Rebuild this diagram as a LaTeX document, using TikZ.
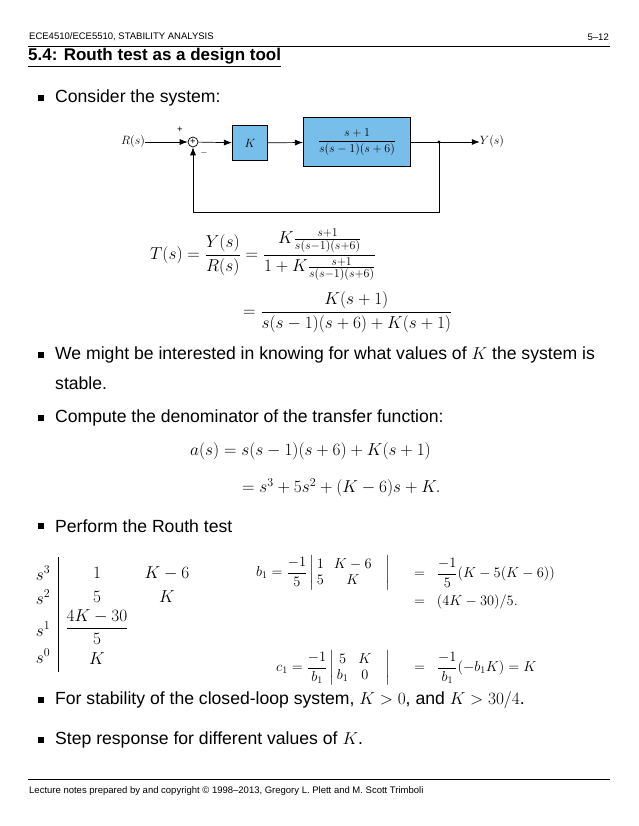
\documentclass[tikz,border=0pt]{standalone}
\usepackage{amsmath}
\usepackage{fontspec}
\setmainfont{Liberation Sans}
\usetikzlibrary{arrows.meta}
\definecolor{blk}{RGB}{120,190,235}
\tikzset{
 txt/.style={anchor=west,inner sep=0pt,font=\fontsize{17.6}{20}\selectfont},
 mth/.style={inner sep=0pt,font=\fontsize{16.5}{19}\selectfont},
 dmt/.style={inner sep=0pt,anchor=west,font=\fontsize{14}{16}\selectfont},
 small/.style={inner sep=0pt,font=\fontsize{9.5}{11}\selectfont},
 bul/.style={fill=black,minimum size=6.5pt,inner sep=0pt},
 blkbox/.style={draw,line width=1.2pt,fill=blk,inner sep=0pt},
 sig/.style={-{Latex[length=8pt,width=6pt]},line width=0.7pt}
}
\begin{document}
\begin{tikzpicture}[x=1pt,y=-1pt]
\useasboundingbox (0,0) rectangle (638,826);
\node[small,anchor=west] (hd) at (29,37) {ECE4510/ECE5510, STABILITY ANALYSIS};
\node[small,anchor=east] (pg) at (609,37) {5--12};
\draw[line width=0.6pt] (28,46) -- (610,46);
\node[txt,anchor=west,font=\fontsize{17}{20}\selectfont\bfseries] (ti) at (28,58) {\underline{5.4: Routh test as a design tool}};
\foreach \n/\y/\t in {b1/98/Consider the system:,b2/355/{We might be interested in knowing for what values of $K$ the system is},b4/418/Compute the denominator of the transfer function:,b5/526/Perform the Routh test,b6/700/{For stability of the closed-loop system, $K>0$, and $K>30/4$.},b7/740/{Step response for different values of $K$.}}{
 \node[bul] (s\n) at (41,\y) {};
 \node[txt] (\n) at (55,\y) {\t};
}
\node[txt] (b3) at (55,383) {stable.};
\node[mth,font=\fontsize{13}{15}\selectfont] (R) at (133,142) {$R(s)$};
\node[draw,circle,minimum size=10pt,inner sep=0pt,line width=0.7pt] (sum) at (193,142) {};
\node[small] at (193,142) {+};
\node[small] (pl) at (180,130) {+};
\node[small] (mi) at (204,153) {$-$};
\node[blkbox,minimum width=35pt,minimum height=35pt] (K) at (250,143) {\fontsize{13}{15}\selectfont$K$};
\node[blkbox,minimum width=107pt,minimum height=49pt] (G) at (357,142) {\fontsize{13}{15}\selectfont$\dfrac{s+1}{s(s-1)(s+6)}$};
\coordinate (br) at (439,142);
\node[mth,font=\fontsize{13}{15}\selectfont] (Y) at (492,142) {$Y(s)$};
\coordinate (fb) at (439,212);
\coordinate (fb2) at (193,212);
\draw[sig] (R) -- (sum);
\draw[sig] (sum) -- (K);
\draw[sig] (K) -- (G);
\draw[sig] (G) -- (Y);
\fill (br) circle (1.6pt);
\draw[sig] (br) -- (fb) -- (fb2) -- (sum);
\node[mth,anchor=west] (T) at (150,255) {$T(s)=\dfrac{Y(s)}{R(s)}=\dfrac{K\frac{s+1}{s(s-1)(s+6)}}{1+K\frac{s+1}{s(s-1)(s+6)}}$};
\node[mth,anchor=west] (T2) at (243,312) {$=\dfrac{K(s+1)}{s(s-1)(s+6)+K(s+1)}$};
\node[mth,anchor=west] (a1) at (190,451) {$a(s)=s(s-1)(s+6)+K(s+1)$};
\node[mth,anchor=west] (a2) at (242,488) {$=s^3+5s^2+(K-6)s+K.$};
\draw[line width=0.6pt] (58,557) -- (58,672);
\node[mth] (r3) at (43,573) {$s^3$};
\node[mth] (r2) at (43,597) {$s^2$};
\node[mth] (r1) at (43,629) {$s^1$};
\node[mth] (r0) at (43,656) {$s^0$};
\node[mth] (c11) at (97,573) {$1$};
\node[mth] (c12) at (167,573) {$K-6$};
\node[mth] (c21) at (97,597) {$5$};
\node[mth] (c22) at (167,597) {$K$};
\node[mth] (c31) at (97,627) {$\dfrac{4K-30}{5}$};
\node[mth] (c41) at (97,659) {$K$};
\node[dmt] (eb) at (256,573) {$b_1=\dfrac{-1}{5}\left|\,\begin{matrix}1 & K-6\\ 5 & K\end{matrix}\quad\right|$};
\node[dmt] (eb2) at (414,573) {$=\ \ \dfrac{-1}{5}(K-5(K-6))$};
\node[dmt] (eb3) at (414,602) {$=\ \ (4K-30)/5.$};
\node[dmt] (ec) at (276,668) {$c_1=\dfrac{-1}{b_1}\left|\,\begin{matrix}5 & K\\ b_1 & 0\end{matrix}\quad\right|$};
\node[dmt] (ec2) at (414,668) {$=\ \ \dfrac{-1}{b_1}(-b_1K)=K$};
\draw[line width=0.6pt] (28,779) -- (610,779);
\node[small,anchor=west] (ft) at (29,791) {Lecture notes prepared by and copyright \textcopyright\ 1998--2013, Gregory L. Plett and M. Scott Trimboli};
\end{tikzpicture}
\end{document}
